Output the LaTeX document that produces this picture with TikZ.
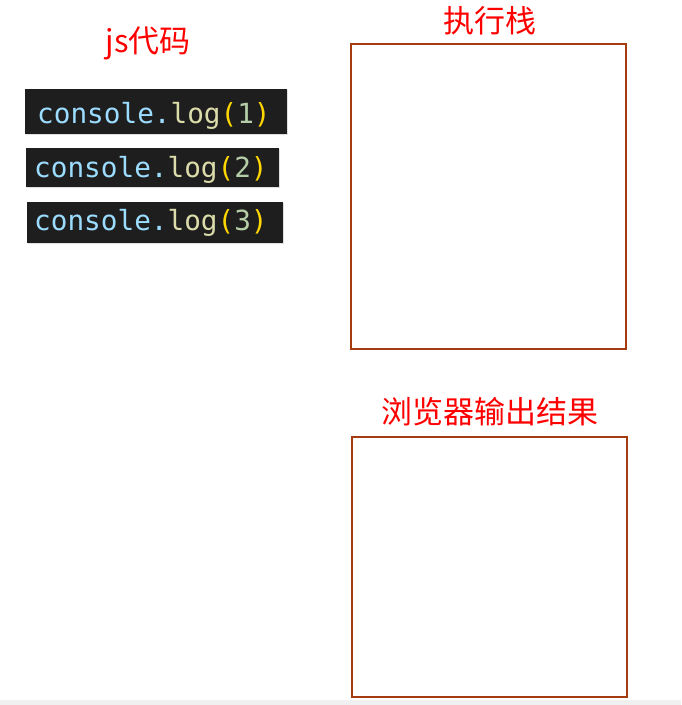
\documentclass[tikz,border=0pt]{standalone}
\usepackage{fontspec}
\newfontfamily\cjk{Noto Sans CJK SC}
\newfontfamily\codefont{DejaVu Sans Mono}
\usetikzlibrary{shadows}
\definecolor{boxbrown}{RGB}{165,60,15}
\definecolor{codebg}{RGB}{30,30,30}
\definecolor{cblue}{RGB}{156,220,254}
\definecolor{cyellow}{RGB}{220,220,170}
\definecolor{cgold}{RGB}{255,215,0}
\definecolor{cgreen}{RGB}{181,206,168}
\definecolor{stripgray}{RGB}{240,240,240}
\tikzset{
  title/.style={text=red, font=\cjk\fontsize{31}{31}\selectfont, inner sep=0pt},
  panel/.style={draw=boxbrown, line width=2.2pt},
  codebox/.style={fill=codebg, inner sep=0pt, anchor=north west, drop shadow={shadow xshift=1pt, shadow yshift=-1pt, opacity=0.25}},
  codetext/.style={font=\codefont\fontsize{27.7}{28}\selectfont, inner sep=0pt, anchor=base west}
}
\newcommand{\codeline}[1]{\textcolor{cblue}{console.}\textcolor{cyellow}{log}\textcolor{cgold}{(}\textcolor{cgreen}{#1}\textcolor{cgold}{)}}
\begin{document}
\begin{tikzpicture}[x=1pt,y=-1pt]
\useasboundingbox (0,0) rectangle (681,705);
\fill[white] (0,0) rectangle (681,705);
\fill[stripgray] (0,700) rectangle (681,705);
% code boxes
\node[codebox, minimum width=262pt, minimum height=45pt] (c1) at (25,89) {};
\node[codebox, minimum width=253pt, minimum height=39pt] (c2) at (26,148) {};
\node[codebox, minimum width=256pt, minimum height=41pt] (c3) at (27,202) {};
\node[codetext] (t1) at (37,123) {\codeline{1}};
\node[codetext] (t2) at (34,177) {\codeline{2}};
\node[codetext] (t3) at (34,230) {\codeline{3}};
% titles
\node[title] (jstitle) at (148,43) {js代码};
\node[title] (stacktitle) at (490,21) {执行栈};
\node[title] (outtitle) at (490,412) {浏览器输出结果};
% panels
\draw[panel] (351,44) rectangle (626,349);
\draw[panel] (352,437) rectangle (627,697);
\node[inner sep=0pt] (stack) at (488.5,196.5) {};
\node[inner sep=0pt] (output) at (489.5,567) {};
\end{tikzpicture}
\end{document}
